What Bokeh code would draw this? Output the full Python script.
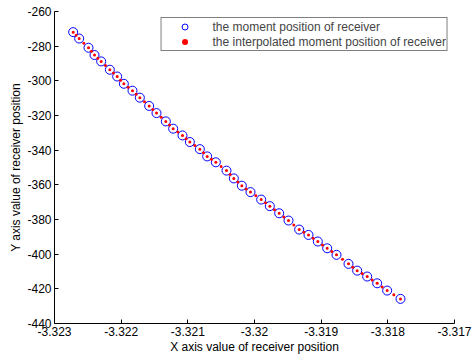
from bokeh.plotting import figure
from bokeh.models import Range1d, FixedTicker, Legend, LegendItem
from bokeh.embed import file_html
from bokeh.resources import INLINE

# --- data ---
x_moment = [-3.32272, -3.32263, -3.32249, -3.32240, -3.32230, -3.32217, -3.32206, -3.32196,
            -3.32183, -3.32172, -3.32158, -3.32147, -3.32133, -3.32122, -3.32108, -3.32097,
            -3.32082, -3.32071, -3.32058, -3.32042, -3.32031, -3.32019, -3.32006, -3.31990,
            -3.31977, -3.31963, -3.31949, -3.31933, -3.31919, -3.31905, -3.31891, -3.31877,
            -3.31859, -3.31846, -3.31831, -3.31816, -3.31801, -3.31781]
y_moment = [-271.9, -275.6, -280.9, -285.1, -288.8, -293.6, -297.5, -301.7, -305.7, -309.7,
            -314.5, -318.6, -323.4, -327.6, -331.5, -335.3, -339.4, -343.6, -347.0, -351.8,
            -356.3, -360.5, -364.2, -368.5, -372.3, -376.4, -380.6, -385.8, -388.9, -392.7,
            -396.6, -400.4, -405.6, -409.5, -412.9, -416.8, -421.0, -425.8]

x_interp = [-3.32272, -3.322675, -3.32263, -3.32256, -3.32249, -3.322445, -3.32240, -3.32235, -3.32230, -3.322235,
            -3.32217, -3.322115, -3.32206, -3.32201, -3.32196, -3.321895, -3.32183, -3.321775, -3.32172, -3.32165,
            -3.32158, -3.321525, -3.32147, -3.3214, -3.32133, -3.321275, -3.32122, -3.32115, -3.32108, -3.321025,
            -3.32097, -3.320895, -3.32082, -3.320765, -3.32071, -3.320645, -3.32058, -3.3205, -3.32042, -3.320365,
            -3.32031, -3.32025, -3.32019, -3.320125, -3.32006, -3.31998, -3.31990, -3.319835, -3.31977, -3.3197,
            -3.31963, -3.31956, -3.31949, -3.31941, -3.31933, -3.31926, -3.31919, -3.31912, -3.31905, -3.31898,
            -3.31891, -3.31884, -3.31877, -3.31868, -3.31859, -3.318525, -3.31846, -3.318385, -3.31831, -3.318235,
            -3.31816, -3.318085, -3.31801, -3.31791, -3.31781]
y_interp = [-271.9, -273.75, -275.6, -278.25, -280.9, -283.0, -285.1, -286.95, -288.8, -291.2,
            -293.6, -295.55, -297.5, -299.6, -301.7, -303.7, -305.7, -307.7, -309.7, -312.1,
            -314.5, -316.55, -318.6, -321.0, -323.4, -325.5, -327.6, -329.55, -331.5, -333.4,
            -335.3, -337.35, -339.4, -341.5, -343.6, -345.3, -347.0, -349.4, -351.8, -354.05,
            -356.3, -358.4, -360.5, -362.35, -364.2, -366.35, -368.5, -370.4, -372.3, -374.35,
            -376.4, -378.5, -380.6, -383.2, -385.8, -387.35, -388.9, -390.8, -392.7, -394.65,
            -396.6, -398.5, -400.4, -403.0, -405.6, -407.55, -409.5, -411.2, -412.9, -414.85,
            -416.8, -418.9, -421.0, -423.4, -425.8]

x_ticks = [-3.323, -3.322, -3.321, -3.320, -3.319, -3.318, -3.317]
x_tick_labels = ["-3.323", "-3.322", "-3.321", "-3.32", "-3.319", "-3.318", "-3.317"]
y_ticks = [-440, -420, -400, -380, -360, -340, -320, -300, -280, -260]
y_tick_labels = ["-440", "-420", "-400", "-380", "-360", "-340", "-320", "-300", "-280", "-260"]

series_names = ["the moment position of receiver",
                "the interpolated moment position of receiver"]
x_title = "X axis value of receiver position"
y_title = "Y axis value of receiver position"

FONT = "Liberation Sans"

p = figure(width=474, height=361, output_backend="svg", toolbar_location=None,
           x_range=Range1d(x_ticks[0], x_ticks[-1]), y_range=Range1d(y_ticks[0], y_ticks[-1]),
           min_border_left=54, min_border_right=20, min_border_top=11, min_border_bottom=38)
p.outline_line_color = None
p.grid.visible = False
p.background_fill_color = "white"
p.border_fill_color = "white"

r_blue = p.scatter(x_moment, y_moment, marker="circle", size=9, fill_color=None,
                   line_color="#0000ff", line_width=1)
r_red = p.scatter(x_interp, y_interp, marker="circle", size=3, fill_color="#ff0000",
                  line_color=None)

for ax, ticks, labels, title in ((p.xaxis[0], x_ticks, x_tick_labels, x_title),
                                 (p.yaxis[0], y_ticks, y_tick_labels, y_title)):
    ax.ticker = FixedTicker(ticks=ticks)
    ax.major_label_overrides = {t: l for t, l in zip(ticks, labels)}
    ax.axis_label = title
    ax.axis_label_text_font = FONT
    ax.axis_label_text_font_size = "12px"
    ax.axis_label_text_font_style = "normal"
    ax.axis_label_text_color = "black"
    ax.major_label_text_font = FONT
    ax.major_label_text_font_size = "12px"
    ax.major_label_text_color = "black"
    ax.major_tick_in = 4
    ax.major_tick_out = 0
    ax.minor_tick_in = 0
    ax.minor_tick_out = 0
    ax.axis_line_color = "black"
    ax.major_tick_line_color = "black"
    ax.major_label_standoff = 3
    ax.axis_label_standoff = 1

legend = Legend(items=[LegendItem(label=series_names[0], renderers=[r_blue]),
                       LegendItem(label=series_names[1], renderers=[r_red])],
                location="top_right", margin=6, padding=1, spacing=0,
                glyph_width=44, glyph_height=15, label_height=15, label_standoff=6,
                label_text_font=FONT, label_text_font_size="12px",
                border_line_color="black", border_line_width=1,
                background_fill_color="white", background_fill_alpha=1.0)
p.add_layout(legend)

open("out.html", "w").write(file_html(p, INLINE))
